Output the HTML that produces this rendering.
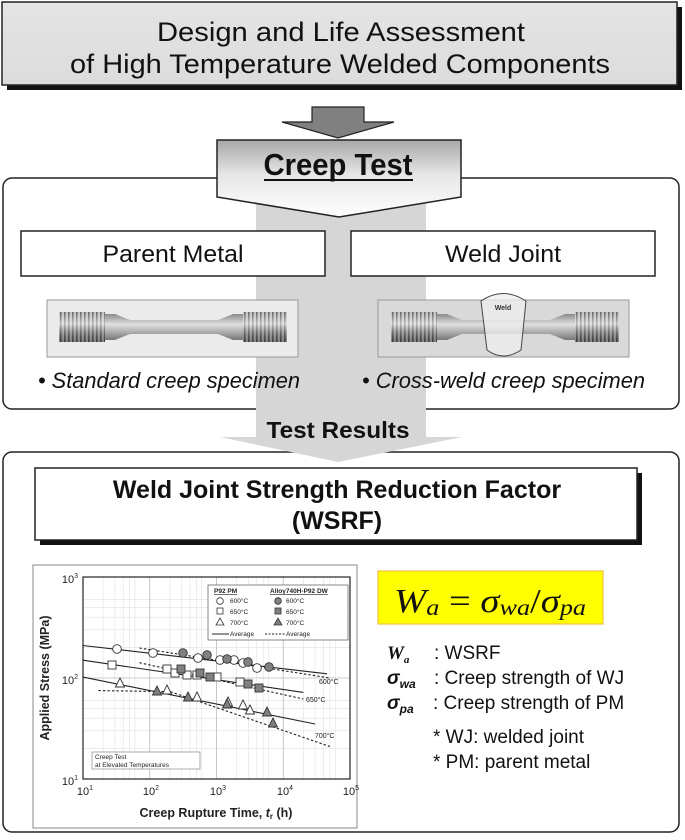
<!DOCTYPE html>
<html><head><meta charset="utf-8"><style>
html,body{margin:0;padding:0;background:#fff;}
svg{display:block;font-family:"Liberation Sans",Arial,sans-serif;}
.n{font-family:"Liberation Sans Narrow","Liberation Sans",sans-serif;}
</style></head><body>
<svg width="685" height="840" viewBox="0 0 685 840" xmlns="http://www.w3.org/2000/svg">
<defs>
<linearGradient id="tg" x1="0" y1="0" x2="0" y2="1"><stop offset="0" stop-color="#e4e4e4"/><stop offset="1" stop-color="#dcdcdc"/></linearGradient>
<linearGradient id="pg" x1="0" y1="0" x2="0" y2="1"><stop offset="0" stop-color="#a8a8a8"/><stop offset="0.45" stop-color="#e6e6e6"/><stop offset="1" stop-color="#ffffff"/></linearGradient>
<linearGradient id="rod" x1="0" y1="0" x2="0" y2="1"><stop offset="0" stop-color="#8a8a8a"/><stop offset="0.4" stop-color="#e0e0e0"/><stop offset="1" stop-color="#777"/></linearGradient>
<pattern id="thr" width="4" height="10" patternUnits="userSpaceOnUse"><rect width="4" height="10" fill="#bbb"/><rect width="1.6" height="10" fill="#555"/></pattern>
<linearGradient id="thrg" x1="0" y1="0" x2="0" y2="1"><stop offset="0" stop-color="#fff" stop-opacity="0.1"/><stop offset="0.4" stop-color="#fff" stop-opacity="0.6"/><stop offset="1" stop-color="#000" stop-opacity="0.3"/></linearGradient>
</defs>

<rect x="7" y="7" width="675" height="83" fill="#111"/>
<rect x="2" y="2" width="675" height="83" fill="url(#tg)" stroke="#222" stroke-width="1.5"/>
<text class="n" x="341" y="41" font-size="27" text-anchor="middle" fill="#111" textLength="368" lengthAdjust="spacingAndGlyphs">Design and Life Assessment</text>
<text class="n" x="340" y="73" font-size="27" text-anchor="middle" fill="#111" textLength="540" lengthAdjust="spacingAndGlyphs">of High Temperature Welded Components</text>

<polygon points="312,107 364,107 364,122 394,122 338,138 282,122 312,122" fill="#808080" stroke="#222" stroke-width="1.2"/>

<rect x="3" y="178" width="676" height="231" rx="9" fill="#fff" stroke="#222" stroke-width="1.5"/>
<rect x="256" y="197" width="170" height="240" fill="#d6d6d6"/>
<rect x="3" y="452" width="676" height="380" rx="9" fill="none" stroke="#222" stroke-width="1.5"/>
<polygon points="220,437 462,437 338,462" fill="#d6d6d6"/>

<polygon points="217,140 461,140 461,197 339,217 217,197" fill="url(#pg)" stroke="#222" stroke-width="1.5"/>
<text class="n" x="338" y="175" font-size="31" font-weight="bold" text-anchor="middle" fill="#111" textLength="149" lengthAdjust="spacingAndGlyphs">Creep Test</text>
<line x1="264" y1="180" x2="413" y2="180" stroke="#111" stroke-width="2"/>

<rect x="21" y="231" width="304" height="45" fill="#fff" stroke="#222" stroke-width="1.5"/>
<text class="n" x="173" y="262" font-size="24" text-anchor="middle" fill="#111" textLength="141" lengthAdjust="spacingAndGlyphs">Parent Metal</text>
<rect x="351" y="231" width="304" height="45" fill="#fff" stroke="#222" stroke-width="1.5"/>
<text class="n" x="503" y="262" font-size="24" text-anchor="middle" fill="#111" textLength="116" lengthAdjust="spacingAndGlyphs">Weld Joint</text>

<rect x="47" y="300" width="251" height="57" fill="#ebebeb" stroke="#999"/>
<g>
<rect x="59" y="312" width="46" height="30" fill="url(#thr)"/><rect x="59" y="312" width="46" height="30" fill="url(#thrg)"/>
<path d="M105,314 L115,314 L130,320 L218,320 L233,314 L243,314 L243,340 L233,340 L218,334 L130,334 L115,340 L105,340 Z" fill="url(#rod)"/>
<rect x="243" y="312" width="44" height="30" fill="url(#thr)"/><rect x="243" y="312" width="44" height="30" fill="url(#thrg)"/>
</g>
<rect x="378" y="300" width="251" height="57" fill="#d9d9d9" stroke="#999"/>
<g>
<rect x="391" y="312" width="46" height="30" fill="url(#thr)"/><rect x="391" y="312" width="46" height="30" fill="url(#thrg)"/>
<path d="M437,314 L447,314 L462,320 L550,320 L565,314 L575,314 L575,340 L565,340 L550,334 L462,334 L447,340 L437,340 Z" fill="url(#rod)"/>
<rect x="575" y="312" width="44" height="30" fill="url(#thr)"/><rect x="575" y="312" width="44" height="30" fill="url(#thrg)"/>
<path d="M481,301 Q503,286 526,301 L521,350 Q503,362 487,350 Z" fill="#eee" fill-opacity="0.75" stroke="#444" stroke-width="1"/>
<text x="503" y="310" font-size="7" font-weight="bold" text-anchor="middle" fill="#333">Weld</text>
</g>
<text class="n" x="38" y="388" font-size="22" font-style="italic" fill="#111" textLength="262" lengthAdjust="spacingAndGlyphs">• Standard creep specimen</text>
<text class="n" x="362" y="388" font-size="22" font-style="italic" fill="#111" textLength="283" lengthAdjust="spacingAndGlyphs">• Cross-weld creep specimen</text>

<text class="n" x="338" y="438" font-size="23" font-weight="bold" text-anchor="middle" fill="#111" textLength="143" lengthAdjust="spacingAndGlyphs">Test Results</text>

<rect x="40" y="473" width="602" height="72" fill="#111"/>
<rect x="35" y="468" width="602" height="72" fill="#fff" stroke="#222" stroke-width="1.5"/>
<text x="337" y="498" font-size="25" font-weight="bold" text-anchor="middle" fill="#111">Weld Joint Strength Reduction Factor</text>
<text x="337" y="529" font-size="25" font-weight="bold" text-anchor="middle" fill="#111">(WSRF)</text>

<rect x="33" y="565" width="324" height="263" fill="#fff" stroke="#888"/>
<g stroke="#e2e2e2" stroke-width="0.6">
<line x1="103.1" y1="577" x2="103.1" y2="779"/><line x1="114.9" y1="577" x2="114.9" y2="779"/><line x1="123.2" y1="577" x2="123.2" y2="779"/><line x1="129.7" y1="577" x2="129.7" y2="779"/><line x1="135" y1="577" x2="135" y2="779"/>
<line x1="169.9" y1="577" x2="169.9" y2="779"/><line x1="181.6" y1="577" x2="181.6" y2="779"/><line x1="190" y1="577" x2="190" y2="779"/><line x1="196.4" y1="577" x2="196.4" y2="779"/><line x1="201.7" y1="577" x2="201.7" y2="779"/>
<line x1="236.6" y1="577" x2="236.6" y2="779"/><line x1="248.4" y1="577" x2="248.4" y2="779"/><line x1="256.7" y1="577" x2="256.7" y2="779"/><line x1="263.2" y1="577" x2="263.2" y2="779"/><line x1="268.5" y1="577" x2="268.5" y2="779"/>
<line x1="303.4" y1="577" x2="303.4" y2="779"/><line x1="315.1" y1="577" x2="315.1" y2="779"/><line x1="323.4" y1="577" x2="323.4" y2="779"/><line x1="329.9" y1="577" x2="329.9" y2="779"/><line x1="335.2" y1="577" x2="335.2" y2="779"/>
<line x1="83" y1="748.6" x2="350" y2="748.6"/><line x1="83" y1="730.8" x2="350" y2="730.8"/><line x1="83" y1="718.2" x2="350" y2="718.2"/><line x1="83" y1="708.4" x2="350" y2="708.4"/><line x1="83" y1="700.4" x2="350" y2="700.4"/>
<line x1="83" y1="647.6" x2="350" y2="647.6"/><line x1="83" y1="629.8" x2="350" y2="629.8"/><line x1="83" y1="617.2" x2="350" y2="617.2"/><line x1="83" y1="607.4" x2="350" y2="607.4"/><line x1="83" y1="599.4" x2="350" y2="599.4"/>
</g>
<g stroke="#bbb" stroke-width="0.8">
<line x1="149.75" y1="577" x2="149.75" y2="779"/><line x1="216.5" y1="577" x2="216.5" y2="779"/><line x1="283.25" y1="577" x2="283.25" y2="779"/><line x1="83" y1="678" x2="350" y2="678"/>
</g>
<rect x="83" y="577" width="267" height="202" fill="none" stroke="#222" stroke-width="1.2"/>
<g font-size="11" fill="#222" text-anchor="middle">
<text x="85" y="795">10<tspan dy="-5" font-size="7">1</tspan></text>
<text x="151" y="795">10<tspan dy="-5" font-size="7">2</tspan></text>
<text x="218" y="795">10<tspan dy="-5" font-size="7">3</tspan></text>
<text x="285" y="795">10<tspan dy="-5" font-size="7">4</tspan></text>
<text x="351" y="795">10<tspan dy="-5" font-size="7">5</tspan></text>
<text x="70" y="583">10<tspan dy="-5" font-size="7">3</tspan></text>
<text x="70" y="684">10<tspan dy="-5" font-size="7">2</tspan></text>
<text x="70" y="785">10<tspan dy="-5" font-size="7">1</tspan></text>
</g>
<text x="216" y="817" font-size="12.5" font-weight="bold" text-anchor="middle" fill="#222">Creep Rupture Time, <tspan font-style="italic">t</tspan><tspan font-size="8" dy="2">r</tspan><tspan dy="-2"> (h)</tspan></text>
<text transform="translate(49,678) rotate(-90)" font-size="12.5" font-weight="bold" text-anchor="middle" fill="#222">Applied Stress (MPa)</text>
<g stroke="#222" stroke-width="1.1" fill="none">
<line x1="83" y1="645.5" x2="327" y2="673.8"/>
<line x1="83" y1="660.2" x2="303.3" y2="692.4"/>
<line x1="83" y1="677.1" x2="315.1" y2="724"/>
</g>
<g stroke="#222" stroke-width="1.1" fill="none" stroke-dasharray="2.5,2">
<line x1="139.4" y1="648" x2="329.9" y2="678"/>
<line x1="139.4" y1="662.7" x2="303.3" y2="699"/>
<polyline points="98.4,690.6 170,691.6 329.9,746.5"/>
</g>
<g stroke="#333" stroke-width="0.9" fill="#fff">
<circle cx="117" cy="649" r="4.3"/><circle cx="153" cy="653" r="4.3"/><circle cx="198" cy="658" r="4.3"/><circle cx="220" cy="660" r="4.3"/><circle cx="234" cy="660" r="4.3"/><circle cx="243" cy="663" r="4.3"/><circle cx="257" cy="668" r="4.3"/>
<rect x="108" y="661" width="8" height="8"/><rect x="163" y="665" width="8" height="8"/><rect x="171" y="669" width="8" height="8"/><rect x="183" y="671" width="8" height="8"/><rect x="193" y="671" width="8" height="8"/><rect x="213" y="673" width="8" height="8"/><rect x="236" y="678" width="8" height="8"/>
<polygon points="120,678 124.5,687 115.5,687"/><polygon points="167,685 171.5,694 162.5,694"/><polygon points="197,692 201.5,701 192.5,701"/><polygon points="228,697 232.5,706 223.5,706"/><polygon points="243,700 247.5,709 238.5,709"/><polygon points="250,705 254.5,714 245.5,714"/>
</g>
<g stroke="#333" stroke-width="0.9" fill="#808080">
<circle cx="183" cy="653" r="4.3"/><circle cx="207" cy="655" r="4.3"/><circle cx="227" cy="659" r="4.3"/><circle cx="248" cy="662" r="4.3"/><circle cx="269" cy="667" r="4.3"/>
<rect x="177" y="665" width="8" height="8"/><rect x="196" y="669" width="8" height="8"/><rect x="206" y="673" width="8" height="8"/><rect x="244" y="680" width="8" height="8"/><rect x="255" y="684" width="8" height="8"/>
<polygon points="157,686 161.5,695 152.5,695"/><polygon points="188,692 192.5,701 183.5,701"/><polygon points="227,699 231.5,708 222.5,708"/><polygon points="267,707 271.5,716 262.5,716"/><polygon points="273,718 277.5,727 268.5,727"/>
</g>
<g font-size="7" fill="#222">
<text x="319" y="684">600°C</text><text x="306" y="702">650°C</text><text x="315" y="738">700°C</text>
</g>
<rect x="208" y="585" width="140" height="55" fill="#fff" stroke="#555" stroke-width="0.7"/>
<g font-size="6.5" fill="#222">
<text x="214" y="593" font-weight="bold" text-decoration="underline">P92 PM</text>
<text x="270" y="593" font-weight="bold" text-decoration="underline">Alloy740H-P92 DW</text>
<text x="230" y="603">600°C</text><text x="230" y="614">650°C</text><text x="230" y="625">700°C</text>
<text x="286" y="603">600°C</text><text x="286" y="614">650°C</text><text x="286" y="625">700°C</text>
<text x="230" y="636">Average</text><text x="286" y="636">Average</text>
</g>
<g stroke="#333" stroke-width="0.8" fill="#fff">
<circle cx="220" cy="601" r="3.3"/><rect x="217" y="608" width="6" height="6"/><polygon points="220,618 224,625 216,625"/>
</g>
<g stroke="#333" stroke-width="0.8" fill="#808080">
<circle cx="278" cy="601" r="3.3"/><rect x="275" y="608" width="6" height="6"/><polygon points="278,618 282,625 274,625"/>
</g>
<line x1="212" y1="634" x2="229" y2="634" stroke="#222"/>
<line x1="265" y1="634" x2="285" y2="634" stroke="#222" stroke-dasharray="2,1.5"/>
<rect x="92" y="752" width="108" height="17" fill="#fff" stroke="#888" stroke-width="0.7"/>
<text x="95" y="759" font-size="6.5" fill="#222">Creep Test</text>
<text x="95" y="767" font-size="6.5" fill="#222">at Elevated Temperatures</text>

<rect x="378" y="571" width="225" height="53" fill="#ffff00" stroke="#f0c040" stroke-width="1.2"/>
<text x="394" y="612" font-family="Liberation Serif,serif" font-size="34" font-style="italic" fill="#111" textLength="192" lengthAdjust="spacingAndGlyphs">W<tspan font-size="23" dy="3">a</tspan><tspan dy="-3" font-style="normal"> = </tspan>σ<tspan font-size="23" dy="3">wa</tspan><tspan dy="-3" font-style="normal">/</tspan>σ<tspan font-size="23" dy="3">pa</tspan></text>
<g font-size="19" fill="#111">
<text x="387" y="659"><tspan font-family="Liberation Serif,serif" font-style="italic" font-weight="bold">W</tspan><tspan font-family="Liberation Serif,serif" font-style="italic" font-weight="bold" font-size="11" dy="4">a</tspan></text>
<text x="434" y="659">: WSRF</text>
<text x="387" y="684"><tspan font-weight="bold" font-style="italic">σ</tspan><tspan font-weight="bold" font-style="italic" font-size="12" dy="4">wa</tspan></text>
<text x="434" y="684">: Creep strength of WJ</text>
<text x="387" y="709"><tspan font-weight="bold" font-style="italic">σ</tspan><tspan font-weight="bold" font-style="italic" font-size="12" dy="4">pa</tspan></text>
<text x="433" y="709">: Creep strength of PM</text>
<text x="433" y="743">* WJ: welded joint</text>
<text x="433" y="768">* PM: parent metal</text>
</g>
</svg>
</body></html>
